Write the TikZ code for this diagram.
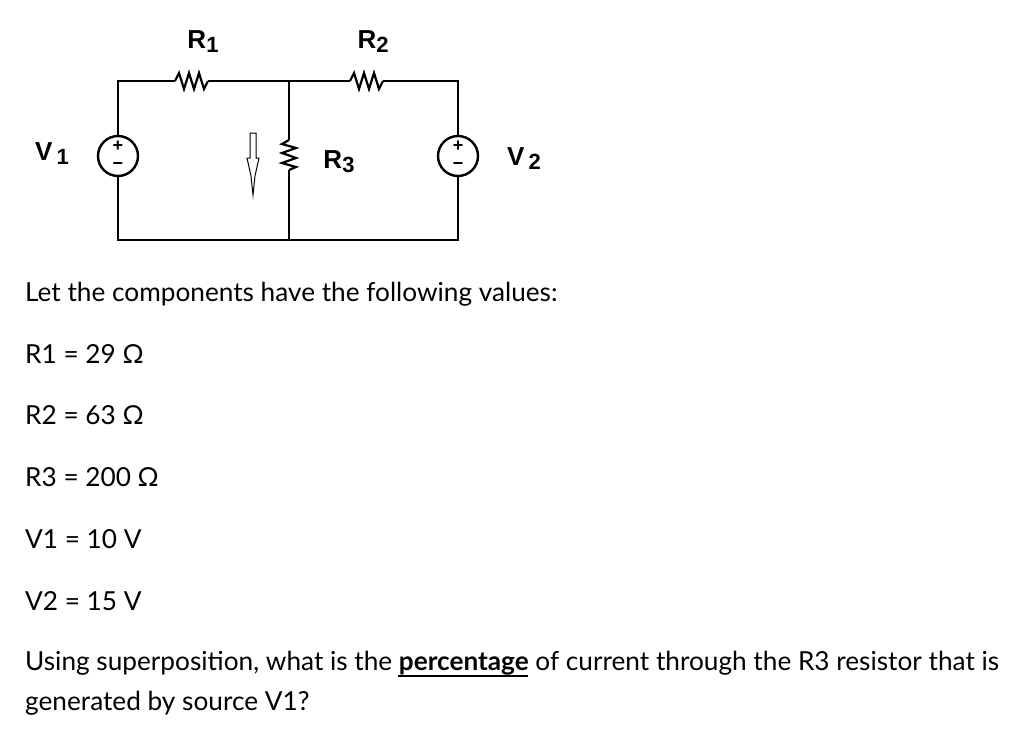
\documentclass[tikz,border=0pt]{standalone}
\usepackage{fontspec}
\setmainfont{Lato}
\newfontfamily\lbl{Liberation Sans}
\begin{document}
\begin{tikzpicture}[x=1pt,y=-1pt,
  wire/.style={line width=2.6pt,line join=miter},
  res/.style={line width=2.2pt},
  pm/.style={font=\lbl\bfseries\fontsize{18}{18}\selectfont,inner sep=0pt},
  lab/.style={font=\lbl\bfseries\fontsize{26}{28}\selectfont,inner sep=0pt},
  txt/.style={font=\fontsize{26.2}{30}\selectfont,anchor=base west,inner sep=0pt}]
\useasboundingbox (0,0) rectangle (1024,745);
\coordinate (tl) at (118,81); \coordinate (tm) at (289,81); \coordinate (tr) at (458,81);
\coordinate (bl) at (118,240); \coordinate (bm) at (289,240); \coordinate (br) at (458,240);
\node[circle,draw,line width=2.4pt,minimum size=40pt,inner sep=0pt] (v1) at (118,156) {};
\node[circle,draw,line width=2.4pt,minimum size=40pt,inner sep=0pt] (v2) at (458,156) {};
\node[pm] at (118,146) {+};
\node[pm] at (118,166) {−};
\node[pm] at (458,146) {+};
\node[pm] at (458,166) {−};
\draw[wire] (v1.north) -- (tl) -- (175,81);
\draw[res] (175,81) -- (179,73) -- (184,89) -- (189,73) -- (194,89) -- (199,73) -- (204,89) -- (208,81);
\draw[wire] (208,81) -- (tm) -- (350,81);
\draw[res] (350,81) -- (354,73) -- (359,89) -- (364,73) -- (369,89) -- (374,73) -- (379,89) -- (383,81);
\draw[wire] (383,81) -- (tr) -- (v2.north);
\draw[wire] (v1.south) -- (bl) -- (br) -- (v2.south);
\draw[wire] (tm) -- (289,140);
\draw[res] (289,140) -- (282,144) -- (296,148) -- (282,153) -- (296,158) -- (282,163) -- (296,167) -- (289,170);
\draw[wire] (289,170) -- (bm);
\draw[line width=1pt] (250,133) -- (256,133) -- (256,158) -- (259,158) -- (255,176) -- (253,195) -- (251,176) -- (247,158) -- (250,158) -- cycle;
\node[lab] (r1) at (203,42) {R\raisebox{-4pt}{\fontsize{22}{22}\selectfont 1}};
\node[lab] (r2) at (373,42) {R\raisebox{-4pt}{\fontsize{22}{22}\selectfont 2}};
\node[lab] (r3) at (339,162) {R\raisebox{-4pt}{\fontsize{22}{22}\selectfont 3}};
\node[lab] (lv1) at (52,154) {V\,\raisebox{-4pt}{\fontsize{22}{22}\selectfont 1}};
\node[lab] (lv2) at (524,159) {V\,\raisebox{-4pt}{\fontsize{22}{22}\selectfont 2}};
\node[txt] (t1) at (25,301) {Let the components have the following values:};
\node[txt] (t2) at (25,363) {R1 = 29 Ω};
\node[txt] (t3) at (25,424) {R2 = 63 Ω};
\node[txt] (t4) at (25,486) {R3 = 200 Ω};
\node[txt] (t5) at (25,548) {V1 = 10 V};
\node[txt] (t6) at (25,610) {V2 = 15 V};
\node[txt] (t7) at (25,670) {Using superposition, what is the \textbf{percentage} of current through the R3 resistor that is};
\draw[line width=1.2pt] (398,676) -- (528,676);
\node[txt] (t8) at (25,710) {generated by source V1?};
\end{tikzpicture}
\end{document}
